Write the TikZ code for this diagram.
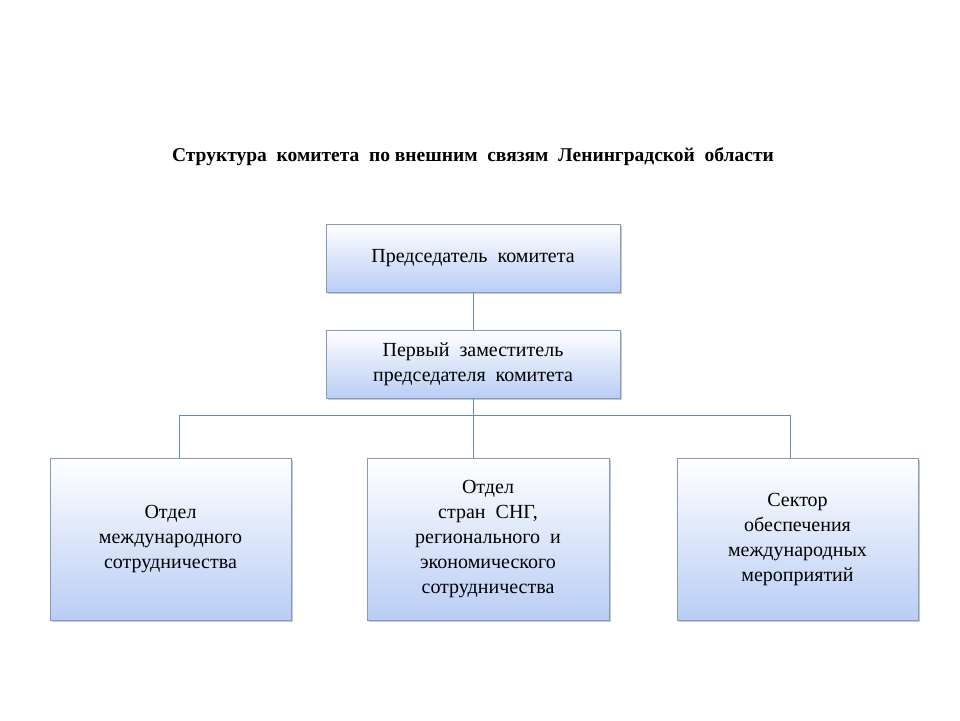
\documentclass[tikz,border=0pt]{standalone}
\usepackage{fontspec}
\setmainfont{Liberation Serif}
\usetikzlibrary{shadows}
\definecolor{bord}{RGB}{135,155,185}
\definecolor{boxbot}{RGB}{185,205,245}
\definecolor{lin}{RGB}{100,140,170}
\tikzset{
 box/.style={draw=bord, line width=0.8pt, top color=white, bottom color=boxbot,
   drop shadow={shadow xshift=2pt,shadow yshift=-2pt,fill=black!35,opacity=0.6},
   align=center, font=\fontsize{20}{25}\selectfont, inner sep=0pt},
 conn/.style={draw=lin, line width=0.8pt}
}
\begin{document}
\begin{tikzpicture}[x=1pt,y=-1pt]
\useasboundingbox (0,0) rectangle (960,720);
\fill[white] (0,0) rectangle (960,720);
\node[font=\bfseries\fontsize{19.5}{22}\selectfont] (title) at (473,157) {Структура \ комитета \ по внешним \ связям \ Ленинградской \ области};
\node[box, minimum width=294pt, minimum height=68pt] (ch) at (473,258) {Председатель \ комитета};
\node[box, minimum width=294pt, minimum height=68pt] (dp) at (473,364) {Первый \ заместитель\\председателя \ комитета};
\node[box, minimum width=241pt, minimum height=162pt] (l) at (170.5,539) {Отдел\\международного\\сотрудничества};
\node[box, minimum width=242pt, minimum height=162pt] (m) at (488,539) {Отдел\\стран \ СНГ,\\регионального \ и\\экономического\\сотрудничества};
\node[box, minimum width=241pt, minimum height=162pt] (r) at (797.5,539) {Сектор\\обеспечения\\международных\\мероприятий};
\coordinate (bl) at (179,415);
\coordinate (bm) at (473,415);
\coordinate (br) at (790,415);
\draw[conn] (ch.south) -- (dp.north);
\draw[conn] (dp.south) -- (bm);
\draw[conn] (bl) -- (br);
\draw[conn] (bl) -- (bl|-l.north);
\draw[conn] (bm) -- (bm|-m.north);
\draw[conn] (br) -- (br|-r.north);
\end{tikzpicture}
\end{document}
